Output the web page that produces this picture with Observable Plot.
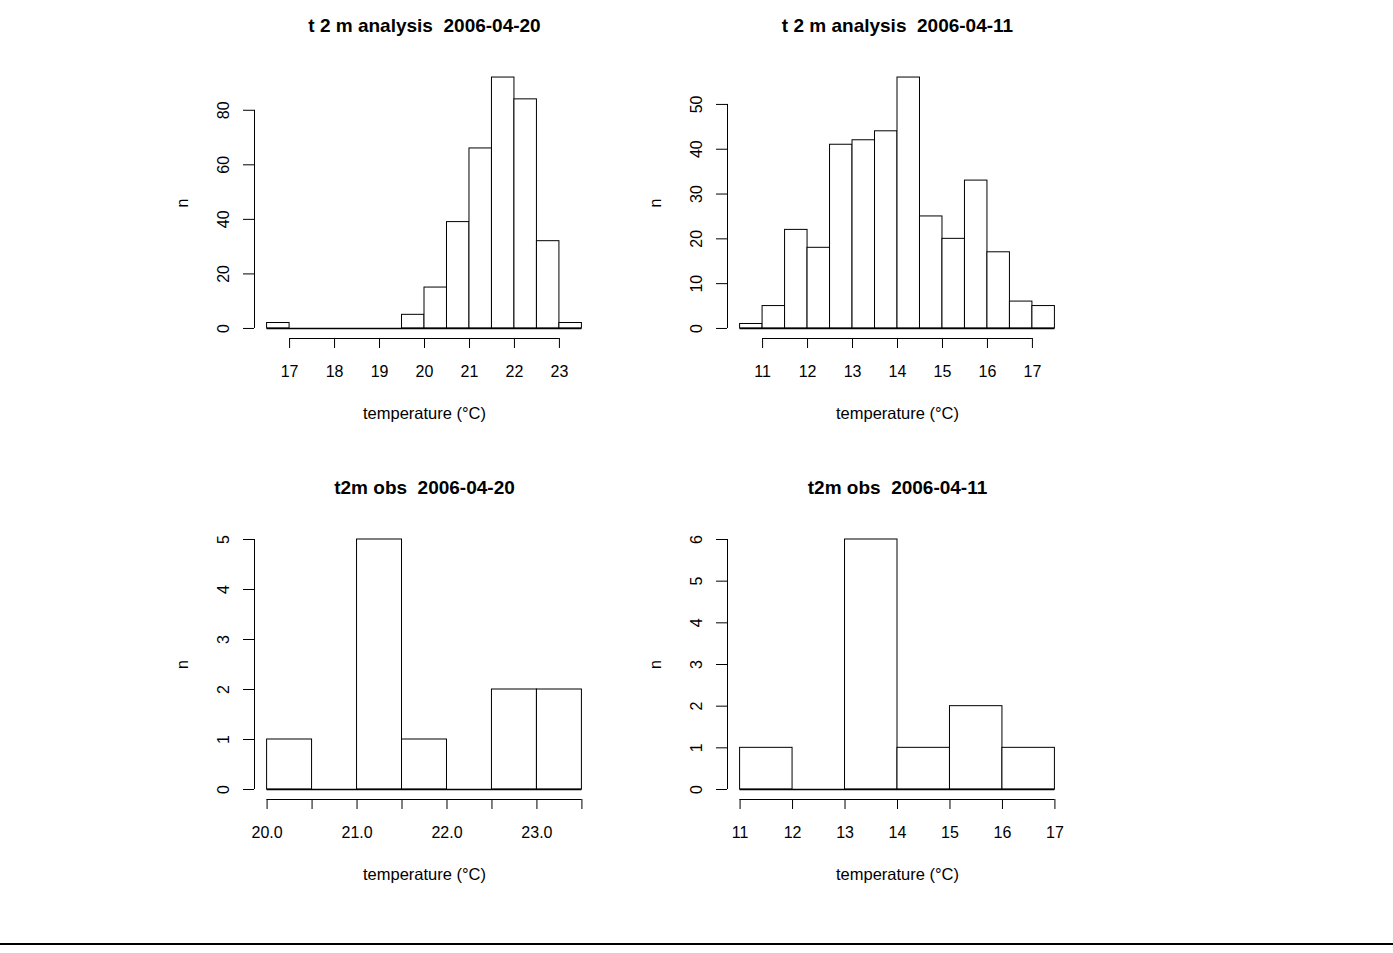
<!DOCTYPE html>
<html><head><meta charset="utf-8">
<script src="https://cdn.jsdelivr.net/npm/d3@7"></script>
<script src="https://cdn.jsdelivr.net/npm/@observablehq/plot@0.6"></script>
<style>
body{margin:0;background:#fff;}
#root{position:relative;width:1393px;height:953px;background:#fff;overflow:hidden;}
.panel{position:absolute;}
#rule{position:absolute;left:0;width:1393px;top:943px;height:2px;background:#000;}
</style></head><body><div id="root"><div id="rule"></div></div>
<script>
const FONT = "'Liberation Sans', Arial, Helvetica, sans-serif";

// ---- data ----
const titles = ["t 2 m analysis  2006-04-20", "t 2 m analysis  2006-04-11", "t2m obs  2006-04-20", "t2m obs  2006-04-11"];
const xTitle = "temperature (°C)";
const yTitle = "n";

const p1Edges = [16.5, 17, 17.5, 18, 18.5, 19, 19.5, 20, 20.5, 21, 21.5, 22, 22.5, 23, 23.5];
const p1Counts = [2, 0, 0, 0, 0, 0, 5, 15, 39, 66, 92, 84, 32, 2];
const p1XTicks = [17, 18, 19, 20, 21, 22, 23];
const p1XLabels = ["17", "18", "19", "20", "21", "22", "23"];
const p1YTicks = [0, 20, 40, 60, 80];

const p2Edges = [10.5, 11, 11.5, 12, 12.5, 13, 13.5, 14, 14.5, 15, 15.5, 16, 16.5, 17, 17.5];
const p2Counts = [1, 5, 22, 18, 41, 42, 44, 56, 25, 20, 33, 17, 6, 5];
const p2XTicks = [11, 12, 13, 14, 15, 16, 17];
const p2XLabels = ["11", "12", "13", "14", "15", "16", "17"];
const p2YTicks = [0, 10, 20, 30, 40, 50];

const p3Edges = [20, 20.5, 21, 21.5, 22, 22.5, 23, 23.5];
const p3Counts = [1, 0, 5, 1, 0, 2, 2];
const p3XTicks = [20, 20.5, 21, 21.5, 22, 22.5, 23, 23.5];
const p3XLabels = ["20.0", "", "21.0", "", "22.0", "", "23.0", ""];
const p3YTicks = [0, 1, 2, 3, 4, 5];

const p4Edges = [11, 12, 13, 14, 15, 16, 17];
const p4Counts = [1, 0, 6, 1, 2, 1];
const p4XTicks = [11, 12, 13, 14, 15, 16, 17];
const p4XLabels = ["11", "12", "13", "14", "15", "16", "17"];
const p4YTicks = [0, 1, 2, 3, 4, 5, 6];

// ---- drawing ----
function bins(edges, counts) {
  return counts.map((c, i) => ({x1: edges[i], x2: edges[i + 1], n: c}));
}
function expand(lo, hi) { const e = (hi - lo) * 0.04; return [lo - e, hi + e]; }

function panel(cfg) {
  const data = bins(cfg.edges, cfg.counts);
  const xd = expand(d3.min(cfg.edges), d3.max(cfg.edges));
  const yd = expand(0, d3.max(cfg.counts));
  const xl = new Map(cfg.xTicks.map((t, i) => [t, cfg.xLabels[i]]));
  const chart = Plot.plot({
    width: cfg.width, height: cfg.height,
    marginLeft: cfg.ml, marginRight: cfg.mr, marginTop: cfg.mt, marginBottom: cfg.mb,
    style: {fontFamily: FONT, fontSize: "16px", background: "transparent", overflow: "visible", maxWidth: "none"},
    x: {domain: xd},
    y: {domain: yd},
    marks: [
      Plot.rectY(data, {x1: "x1", x2: "x2", y1: 0, y2: "n", fill: "white", stroke: "black", strokeWidth: 1}),
      Plot.ruleY([0], {x1: d3.min(cfg.edges), x2: d3.max(cfg.edges), stroke: "black", strokeWidth: 1.5}),
      Plot.ruleY([yd[0]], {x1: d3.min(cfg.xTicks), x2: d3.max(cfg.xTicks), stroke: "black", strokeWidth: 1}),
      Plot.ruleX([xd[0]], {y1: d3.min(cfg.yTicks), y2: d3.max(cfg.yTicks), stroke: "black", strokeWidth: 1}),
      Plot.axisX({ticks: cfg.xTicks, tickSize: 10, tickFormat: () => "", label: null, stroke: "black"}),
      Plot.axisY({ticks: cfg.yTicks, tickSize: 11, tickFormat: () => "", label: null, stroke: "black"}),
      Plot.text(cfg.xTicks, {x: d => d, text: d => xl.get(d), frameAnchor: "bottom", dy: 33, lineAnchor: "middle", fontSize: 16, fill: "black"}),
      Plot.text(cfg.yTicks, {y: d => d, text: d => String(d), frameAnchor: "left", dx: -31, rotate: -90, textAnchor: "middle", lineAnchor: "middle", fontSize: 16, fill: "black"}),
      Plot.text([yTitle], {text: d => d, frameAnchor: "left", dx: -72, rotate: -90, textAnchor: "middle", lineAnchor: "middle", fontSize: 16, fill: "black"}),
      Plot.text([xTitle], {text: d => d, frameAnchor: "bottom", dy: 75, lineAnchor: "middle", fontSize: 16.5, fill: "black"}),
      Plot.text([cfg.title], {text: d => d, frameAnchor: "top", dy: -42, lineAnchor: "middle", fontSize: 19, fontWeight: "bold", fill: "black"})
    ]
  });
  const div = document.createElement("div");
  div.className = "panel";
  div.style.left = cfg.left + "px";
  div.style.top = cfg.top + "px";
  div.appendChild(chart);
  document.getElementById("root").appendChild(div);
}

// layout: plot regions left x 254-594, right x 727-1067; top y 67-338, bottom y 529-799
panel({title: titles[0], edges: p1Edges, counts: p1Counts, xTicks: p1XTicks, xLabels: p1XLabels, yTicks: p1YTicks,
  left: 0, top: 0, width: 640, height: 460, ml: 254, mr: 46, mt: 67, mb: 122});
panel({title: titles[1], edges: p2Edges, counts: p2Counts, xTicks: p2XTicks, xLabels: p2XLabels, yTicks: p2YTicks,
  left: 640, top: 0, width: 753, height: 460, ml: 87, mr: 326, mt: 67, mb: 122});
panel({title: titles[2], edges: p3Edges, counts: p3Counts, xTicks: p3XTicks, xLabels: p3XLabels, yTicks: p3YTicks,
  left: 0, top: 460, width: 640, height: 480, ml: 254, mr: 46, mt: 69, mb: 141});
panel({title: titles[3], edges: p4Edges, counts: p4Counts, xTicks: p4XTicks, xLabels: p4XLabels, yTicks: p4YTicks,
  left: 640, top: 460, width: 753, height: 480, ml: 87, mr: 326, mt: 69, mb: 141});
</script></body></html>
